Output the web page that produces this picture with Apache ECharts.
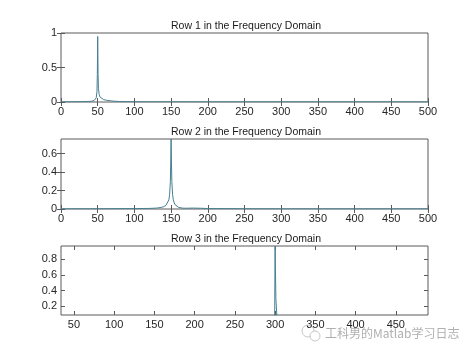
<!DOCTYPE html>
<html>
<head>
<meta charset="utf-8">
<script src="https://cdn.jsdelivr.net/npm/echarts@6/dist/echarts.min.js"></script>
<style>
  html, body { margin: 0; padding: 0; background: #fff; }
  #chart { width: 474px; height: 355px; }
</style>
</head>
<body>
<div id="chart"></div>
<script>
// row 1 spectrum, peak at 50
var x1 = [0, 10, 20, 30, 38, 42, 45, 47, 48, 49, 49.5, 50, 50.5, 51, 52, 53, 55, 58, 62, 67, 72, 80, 90, 100, 120, 150, 200, 250, 300, 350, 400, 450, 500];
var y1 = [0.002, 0.003, 0.004, 0.006, 0.008, 0.012, 0.02, 0.035, 0.06, 0.15, 0.4, 0.95, 0.4, 0.2, 0.11, 0.075, 0.05, 0.035, 0.025, 0.018, 0.012, 0.007, 0.005, 0.004, 0.003, 0.003, 0.002, 0.002, 0.002, 0.002, 0.002, 0.002, 0.002];

// row 2 spectrum, peak at 150
var x2 = [0, 50, 100, 120, 130, 135, 140, 143, 145, 147, 148, 149, 149.5, 150, 150.5, 151, 152, 153, 155, 157, 160, 165, 170, 180, 190, 200, 250, 300, 350, 400, 450, 500];
var y2 = [0.002, 0.003, 0.005, 0.006, 0.01, 0.015, 0.025, 0.04, 0.06, 0.1, 0.16, 0.3, 0.5, 0.76, 0.5, 0.3, 0.16, 0.1, 0.05, 0.03, 0.018, 0.01, 0.008, 0.01, 0.008, 0.005, 0.003, 0.002, 0.002, 0.002, 0.002, 0.002];

// row 3 spectrum, peak at 300
var x3 = [34, 100, 200, 290, 298, 299.5, 300, 301, 302.5, 310, 400, 490];
var y3 = [0.002, 0.002, 0.002, 0.005, 0.02, 0.09, 0.97, 0.3, 0.02, 0.005, 0.002, 0.002];

var titles = ['Row 1 in the Frequency Domain', 'Row 2 in the Frequency Domain', 'Row 3 in the Frequency Domain'];
var xTicks12 = [0, 50, 100, 150, 200, 250, 300, 350, 400, 450, 500];
var xTicks3 = [50, 100, 150, 200, 250, 300, 350, 400, 450];
var yTicks1 = [0, 0.5, 1];
var yTicks2 = [0, 0.2, 0.4, 0.6];
var yTicks3 = [0.2, 0.4, 0.6, 0.8];

var chart = echarts.init(document.getElementById('chart'));

var font = 'Arial, "Liberation Sans", Helvetica, sans-serif';
var axisColor = '#5a5a5a';
var lineColor = '#467f90';

var grids = [
    { left: 61, top: 33, width: 367, height: 69 },
    { left: 61, top: 139, width: 367, height: 70 },
    { left: 61, top: 246, width: 367, height: 69 }
];
var xRanges = [[0, 500, xTicks12], [0, 500, xTicks12], [34, 490, xTicks3]];
var yRanges = [[0, 1, yTicks1], [0, 0.76, yTicks2], [0.09, 0.97, yTicks3]];
var seriesData = [[x1, y1], [x2, y2], [x3, y3]];

function pairs(xs, ys) {
    return xs.map(function (x, i) { return [x, ys[i]]; });
}

var xAxes = [], yAxes = [], series = [];
grids.forEach(function (g, i) {
    g.show = true;
    g.borderColor = axisColor;
    g.borderWidth = 1;
    // bottom axis with labels, top axis only ticks
    ['bottom', 'top'].forEach(function (pos) {
        xAxes.push({
            type: 'value', gridIndex: i, position: pos,
            min: xRanges[i][0], max: xRanges[i][1],
            axisLine: { show: false },
            splitLine: { show: false },
            axisTick: { show: true, inside: true, length: 4, lineStyle: { color: axisColor }, customValues: xRanges[i][2] },
            axisLabel: {
                show: pos === 'bottom', margin: 4, color: '#262626', fontSize: 11, fontFamily: font,
                customValues: xRanges[i][2], showMinLabel: true, showMaxLabel: true
            }
        });
    });
    ['left', 'right'].forEach(function (pos) {
        yAxes.push({
            type: 'value', gridIndex: i, position: pos,
            min: yRanges[i][0], max: yRanges[i][1],
            axisLine: { show: false },
            splitLine: { show: false },
            axisTick: { show: true, inside: true, length: 4, lineStyle: { color: axisColor }, customValues: yRanges[i][2] },
            axisLabel: {
                show: pos === 'left', margin: 4, color: '#262626', fontSize: 11, fontFamily: font,
                customValues: yRanges[i][2], showMinLabel: true, showMaxLabel: true
            }
        });
    });
    series.push({
        type: 'line',
        xAxisIndex: i * 2, yAxisIndex: i * 2,
        data: pairs(seriesData[i][0], seriesData[i][1]),
        showSymbol: false,
        clip: true,
        lineStyle: { color: lineColor, width: 1 },
        animation: false
    });
});

var titleTops = [16, 122, 229];
var option = {
    backgroundColor: '#fff',
    animation: false,
    title: titles.map(function (t, i) {
        return {
            text: t, left: 241, top: titleTops[i], textAlign: 'center',
            textStyle: { fontSize: 10.5, fontWeight: 'normal', color: '#1a1a1a', fontFamily: font }
        };
    }),
    grid: grids,
    xAxis: xAxes,
    yAxis: yAxes,
    series: series,
    graphic: [
        // watermark
        { type: 'circle', shape: { cx: 308, cy: 331, r: 6 }, style: { fill: 'none', stroke: '#c8c8c8', lineWidth: 1 } },
        { type: 'circle', shape: { cx: 315, cy: 336, r: 5 }, style: { fill: '#fff', stroke: '#c8c8c8', lineWidth: 1 } },
        {
            type: 'text', left: 325, top: 327,
            style: { text: '工科男的Matlab学习日志', fill: '#b0b0b0', fontSize: 12, fontFamily: '"Noto Sans CJK SC", sans-serif' }
        }
    ]
};

chart.setOption(option);
</script>
</body>
</html>
